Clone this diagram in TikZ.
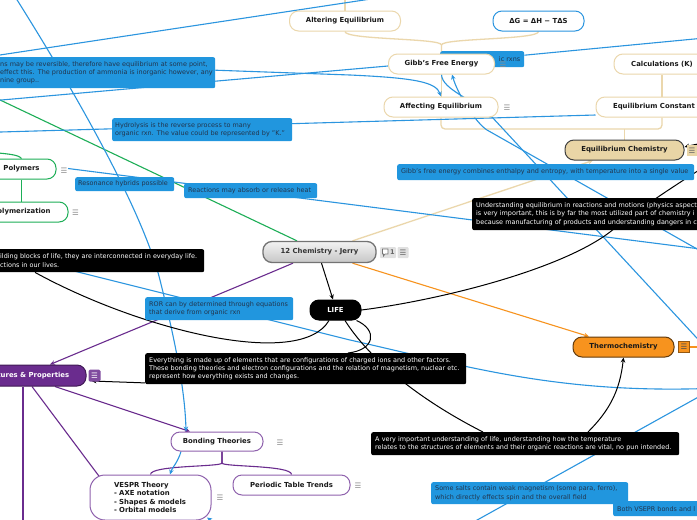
\documentclass[tikz,border=0pt]{standalone}
\usepackage{fontspec}
\setmainfont{DejaVu Sans}
\usetikzlibrary{arrows.meta,calc,backgrounds}
\definecolor{nblue}{HTML}{2196DE}
\definecolor{ntext}{HTML}{22354D}
\definecolor{lblue}{HTML}{2B95DF}
\definecolor{beige}{HTML}{EBD7AC}
\definecolor{beigefill}{HTML}{E9D5A6}
\definecolor{purp}{HTML}{6A2C8E}
\definecolor{purpb}{HTML}{8F62AD}
\definecolor{grn}{HTML}{1DAE57}
\definecolor{orng}{HTML}{F7931E}
\definecolor{icong}{HTML}{8C8C8C}
\newcommand\mmreg{\fontsize{6.45}{8.3}\selectfont}
\newcommand\mmbold{\fontsize{6.9}{8.6}\selectfont\bfseries}
\newcommand\mmicon{\fontsize{7.5}{7.5}\selectfont}
\tikzset{
  topic/.style={draw, fill=white, rounded corners=9pt, minimum height=20pt, inner sep=0pt, font=\mmbold, text=black!90, line width=1pt},
  beigetopic/.style={topic, draw=beige},
  purptopic/.style={topic, draw=purpb},
  grntopic/.style={topic, draw=grn},
  bnote/.style={fill=nblue, text=ntext, rounded corners=2pt, font=\mmreg, align=left, anchor=north west, inner xsep=4pt, inner ysep=0pt},
  knote/.style={bnote, fill=black, text=white},
  menu/.style={font=\mmicon, text=icong, inner sep=0.5pt},
  tip/.style={-{Stealth[length=5pt,width=4.5pt]}},
  beigel/.style={draw=beige, line width=1.3pt},
  greenl/.style={draw=grn, line width=1.1pt},
  purpl/.style={draw=purp, line width=1.1pt},
  orangel/.style={draw=orng, line width=1.1pt},
  blackl/.style={draw=black, line width=1pt},
  bluel/.style={draw=lblue, line width=1.1pt},
}
\begin{document}
\begin{tikzpicture}[x=1pt,y=-1pt]
\useasboundingbox (0,0) rectangle (697,520);
\clip (0,0) rectangle (697,520);

% ---------- notes ----------
\node[bnote, minimum width=220, minimum height=31, text width=210, inner xsep=5pt] (notea) at (-5,57)
  {\mbox{ns may be reversible, therefore have equilibrium at some point,}\\\mbox{effect this. The production of ammonia is inorganic however, any}\\\mbox{nine group..}};
\node[bnote, minimum width=180, minimum height=23, text width=174, inner xsep=3pt] (noteb) at (112,118)
  {\mbox{Hydrolysis is the reverse process to many}\\\mbox{organic rxn. The value could be represented by "K."}};
\node[bnote, minimum width=99, minimum height=14, text width=93, inner xsep=3pt] (notec) at (75,177)
  {\mbox{Resonance hybrids possible}};
\node[bnote, minimum width=133, minimum height=15, text width=125] (noted) at (184,183)
  {\mbox{Reactions may absorb or release heat}};
\node[bnote, minimum width=297, minimum height=16, text width=289] (notee) at (397,164)
  {\mbox{Gibb's free energy combines enthalpy and entropy, with temperature into a single value}};
\node[bnote, minimum width=148, minimum height=23, text width=140] (notef) at (145,297)
  {\mbox{ROR can by determined through equations}\\\mbox{that derive from organic rxn}};
\node[bnote, minimum width=197, minimum height=22, text width=189] (noteg) at (431,482)
  {\mbox{Some salts contain weak magnetism (some para, ferro),}\\\mbox{which directly effects spin and the overall field}};
\node[bnote, minimum width=100, minimum height=15, text width=92] (noteh) at (613,501)
  {\mbox{Both VSEPR bonds and l}};
\node[knote, minimum width=209, minimum height=23, text width=199, inner xsep=5pt] (notei) at (-5,249)
  {\mbox{ilding blocks of life, they are interconnected in everyday life.}\\\mbox{ctions in our lives.}};
\node[knote, minimum width=240, minimum height=32, text width=232] (notej) at (472,198)
  {\mbox{Understanding equilibrium in reactions and motions (physics aspect}\\\mbox{is very important, this is by far the most utilized part of chemistry i}\\\mbox{because manufacturing of products and understanding dangers in c}};
\node[knote, minimum width=321, minimum height=31, text width=313] (notek) at (145,353)
  {\mbox{Everything is made up of elements that are configurations of charged ions and other factors.}\\\mbox{These bonding theories and electron configurations and the relation of magnetism, nuclear etc.}\\\mbox{represent how everything exists and changes.}};
\node[knote, minimum width=308, minimum height=23, text width=300] (notel) at (371,432)
  {\mbox{A very important understanding of life, understanding how the temperature}\\\mbox{relates to the structures of elements and their organic reactions are vital, no pun intended.}};
\node[bnote, minimum width=84, minimum height=16, text width=76] (noterx) at (440,51) {\hfill ic rxns};

% ---------- topics ----------
\node[beigetopic, minimum width=111] (alter) at (345,21) {Altering Equilibrium};
\node[topic, draw=lblue, minimum width=91] (dg) at (538.5,21) {ΔG = ΔH − TΔS};
\node[beigetopic, minimum width=106] (gibbs) at (441.5,64) {Gibb's Free Energy};
\node[beigetopic, minimum width=96] (calc) at (662,64) {Calculations (K)};
\node[beigetopic, minimum width=114] (affect) at (441,107) {Affecting Equilibrium};
\node[beigetopic, minimum width=116] (eqconst) at (654,107) {Equilibrium Constant};
\node[topic, fill=beigefill, draw=black!75, minimum width=119] (eqchem) at (624.5,150) {Equilibrium Chemistry};
\node[topic, top color=white!95!black, bottom color=black!22, draw=black!55, line width=1.3pt, text=black!80, minimum width=113, minimum height=21] (root) at (319.5,252) {12 Chemistry - Jerry};
\node[topic, fill=black, draw=black, text=white, minimum width=51] (life) at (335.5,310) {LIFE};
\node[topic, fill=orng, draw=black!60!orng, minimum width=101] (thermo) at (623.5,347) {Thermochemistry};
\node[topic, fill=purp, draw=purp!60!black, text=white, minimum width=126, minimum height=21] (sp) at (23,375.5) {Structures \& Properties};
\node[purptopic, minimum width=92, minimum height=19] (bond) at (217,441.5) {Bonding Theories};
\node[purptopic, minimum width=121, minimum height=45, rounded corners=15pt, align=left, text width=73, inner xsep=24pt] (vespr) at (150.5,497.5) {VESPR Theory\\- AXE notation\\- Shapes \& models\\- Orbital models};
\node[purptopic, minimum width=117] (periodic) at (291.5,485) {Periodic Table Trends};
\node[grntopic, minimum width=69] (poly) at (21.5,169) {Polymers};
\node[grntopic, minimum width=93] (polyz) at (21.5,212) {Polymerization};

% ---------- icons ----------
\node[menu] (gibbsm) at (503,64.5) {☰};
\node[menu] (affectm) at (507,107.5) {☰};
\node[menu, fill=beigefill, text=black!60, minimum size=11pt] (eqchemm) at (692,150.5) {☰};
\node[fill=black!12, rounded corners=1pt, minimum width=16pt, minimum height=11pt] (rootc) at (388,252.5) {};
\draw[black!55, line width=0.7pt, fill=white] (382.5,249) -- (388,249) -- (388,254) -- (385,254) -- (383.5,256) -- (383.5,254) -- (382.5,254) -- cycle;
\node[font=\fontsize{6.5}{6.5}\selectfont\bfseries, text=black!60, inner sep=0pt] (rootcn) at (392.5,252.5) {1};
\node[menu, fill=black!12, rounded corners=1pt, text=black!60, minimum size=11pt] (rootm) at (403,252.5) {☰};
\node[menu, fill=orng, draw=black!40!orng, text=black!70, minimum size=11pt] (thermom) at (684,347) {☰};
\node[menu, fill=purp!85, rounded corners=1.5pt, text=white, minimum size=12pt] (spm) at (94.5,375.5) {☰};
\node[menu] (bondm) at (280,442.5) {☰};
\node[menu] (vesprm) at (220,497.5) {☰};
\node[menu] (periodicm) at (358,485.5) {☰};
\node[menu] (polym) at (64,170.5) {☰};
\node[menu] (polyzm) at (75.5,212.5) {☰};

% ---------- off-canvas ends ----------
\coordinate (cAlterUp) at (345,-5);
\coordinate (cGreenOut) at (-10,95.2);
\coordinate (cPolyIn) at (-10,152);
\coordinate (cSPdown) at (23,530);
\coordinate (cThermoOut) at (710,347);
\coordinate (cTopLong) at (14,-5);
\coordinate (cVin) at (222,528);
\coordinate (cL2) at (-10,101);
\coordinate (cTopL) at (-10,56.5);
\coordinate (cTopR) at (380,-2.4);
\coordinate (cHydL) at (-10,132.3);
\coordinate (cRxR) at (710,37.5);
\coordinate (cBR) at (720,363);
\coordinate (cAR) at (720,262);
\coordinate (cPolyR) at (720,251.5);
\coordinate (cRORL) at (-10,250);
\coordinate (cRORR) at (720,388);
\coordinate (cBotL) at (470,524);
\coordinate (cBotR) at (720,385);

\begin{pgfonlayer}{background}
\clip (0,0) rectangle (697,520);
\fill[white] (0,0) rectangle (697,520);
% beige
\draw[beigel] (gibbs.north) -- (441.5,45) .. controls (441.5,38) and (345,40) .. (alter.south);
\draw[beigel] (441.5,45) .. controls (441.5,38) and (538.5,40) .. (dg.south);
\draw[beigel] (alter.north) -- (cAlterUp);
\draw[beigel] (gibbs.south) -- (gibbs.south |- affect.north);
\draw[beigel] (calc.south) -- (calc.south |- eqconst.north);
\draw[beigel, rounded corners=4pt] (affect.south) -- (441,129) -- (662,129) -- (calc.south |- eqconst.south);
\draw[beigel] (eqchem.north) -- (624.5,129);
\draw[beigel, tip] ([xshift=33pt]root.north) -- ([xshift=-31.5pt]eqchem.south);
% green
\draw[greenl] ([xshift=-22.5pt]root.north) -- (cGreenOut);
\draw[greenl] (cPolyIn) .. controls (5,154) and (18,154) .. (poly.north);
\draw[greenl] (poly.south) -- (polyz.north);
% purple
\draw[purpl, tip] ([xshift=-26.5pt]root.south) .. controls (230,290) and (120,335) .. ([xshift=27pt]sp.north);
\draw[purpl, tip] ([xshift=32pt]sp.south) -- ([xshift=-27pt]bond.north);
\draw[purpl] ([xshift=9pt]sp.south) -- ([xshift=-50.5pt,yshift=-3pt]vespr.north);
\draw[purpl] (sp.south) -- (cSPdown);
\draw[purpl] ([xshift=5pt]bond.south) -- ++(0,11.5) .. controls (222,467) and (150.5,465) .. (vespr.north);
\draw[purpl] ([xshift=5pt]bond.south) -- ++(0,11.5) .. controls (222,467) and (291.5,465) .. (periodic.north);
% orange
\draw[orangel, tip] ([xshift=33pt]root.south) -- ([xshift=-34.5pt]thermo.north);
\draw[orangel] (thermom.east) -- (cThermoOut);
% blue
\draw[bluel] (cTopL) -- (cTopR);
\draw[bluel] (cL2) -- ([yshift=-2pt]gibbs.west);
\draw[bluel] (cHydL) -- ([yshift=-8pt]eqconst.west);
\draw[bluel] ([yshift=4pt]noterx.east) -- (cRxR);
\draw[bluel, tip] ([yshift=2.5pt]notea.east) -- (350,75) .. controls (415,78) and (436,82) .. (affect.north);
\draw[bluel] (gibbs.south) .. controls (442,90) and (475,100) .. (492,117) -- (cBR);
\draw[bluel, tip] (cAR) -- (487,130) .. controls (476,123) and (458,95) .. ([xshift=10.5pt]gibbs.south);
\draw[bluel] ([yshift=2pt]polym.east) -- (cPolyR);
\draw[bluel] (cRORL) -- (350,340) .. controls (470,367) and (560,395) .. (cRORR);
\draw[bluel] (cBotL) -- (cBotR);
\draw[bluel, tip] (cTopLong) .. controls (55,60) and (140,200) .. (160,280) .. controls (175,340) and (185,390) .. ([xshift=-31pt]bond.north);
\draw[bluel, tip] ([xshift=-36pt]bond.south) .. controls (178,462) and (172,468) .. ([xshift=19.5pt]vespr.north);
\draw[bluel, tip] (cVin) -- ([xshift=56.5pt,yshift=3pt]vespr.south);
% black
\draw[blackl, tip] ([xshift=2pt]root.south) -- ([xshift=-2.5pt]life.north);
\draw[blackl, tip] (life.east) .. controls (440,300) and (560,270) .. (610,232) .. controls (650,200) and (700,170) .. (730,150) .. controls (745,140) and (712,140) .. ([yshift=3pt]eqchem.east);
\draw[blackl] ([xshift=40pt]notei.south west) .. controls (140,330) and (300,370) .. ([xshift=-6.5pt]life.south);
\draw[blackl] ([xshift=9.5pt]life.south) .. controls (370,360) and (420,400) .. ([xshift=112pt]notel.north west);
\draw[blackl] ([xshift=21pt]life.south) .. controls (378,330) and (375,350) .. ([xshift=203pt]notek.north west);
\draw[blackl, tip] ([xshift=217pt]notel.north west) .. controls (610,410) and (620,390) .. (thermo.south);
\draw[blackl, tip] ([yshift=1.5pt]notek.south west) -- ([xshift=5pt,yshift=-5.5pt]sp.east);
\end{pgfonlayer}
\end{tikzpicture}
\end{document}
